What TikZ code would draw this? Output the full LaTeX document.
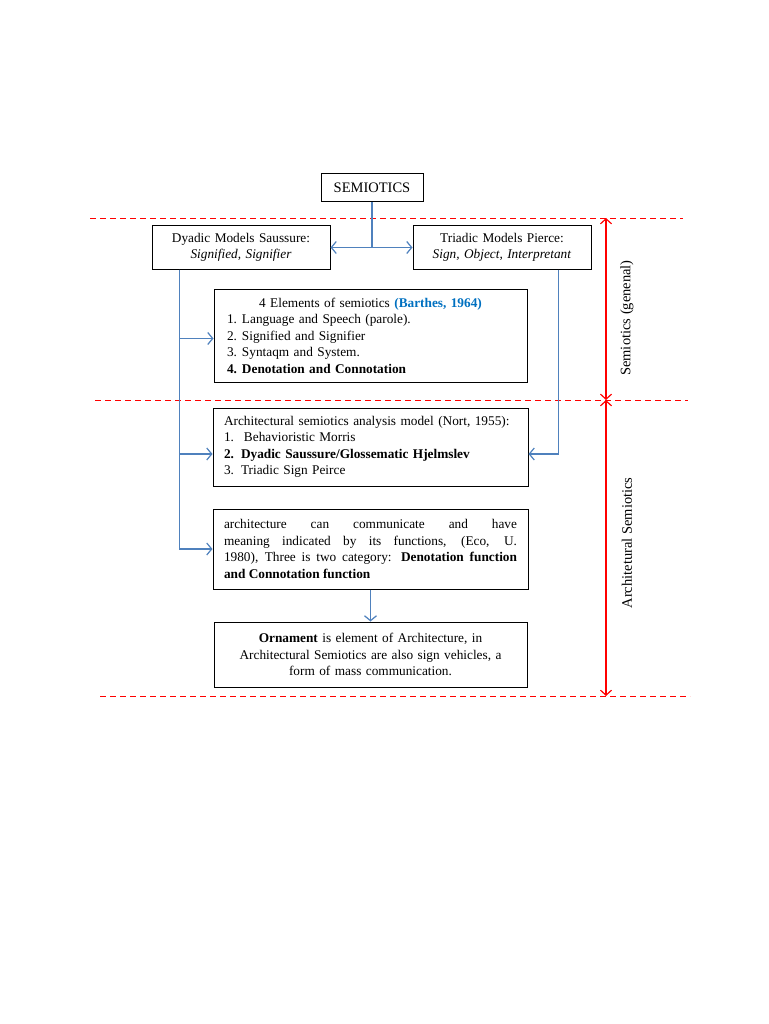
\documentclass[tikz,border=0pt]{standalone}
\usepackage{fontspec}
\setmainfont{Liberation Serif}
\usetikzlibrary{arrows.meta, positioning}
\definecolor{linkblue}{RGB}{79,129,189}
\definecolor{citeblue}{RGB}{0,112,192}
\tikzset{
link/.style={draw=linkblue, line width=1.2pt, -{Straight Barb[length=5pt,width=12pt]}}, % blue connectors
span/.style={draw=red, line width=1.2pt, {Straight Barb[length=5pt,width=11pt]}-{Straight Barb[length=5pt,width=11pt]}}, % red range arrows
sepline/.style={draw=red, line width=0.8pt, dash pattern=on 6pt off 4pt}, % section borders
}

\begin{document}
\begin{tikzpicture}[x=1pt, y=-1pt, box/.style = {draw, line width=1pt, inner ysep=0pt, font=\fontsize{13.3}{16.5}\selectfont}]
    % semiotics scheme with the general and the architectural part
    \useasboundingbox (0,0) rectangle (768,1024);

    \node[box, minimum width=102pt, minimum height=28pt, font=\fontsize{14.5}{16}\selectfont] (semiotics) at (372,188) {SEMIOTICS};
    \node[box, text width=160pt, inner xsep=9pt, minimum height=43pt, align=center] (dyadic) at (241,247.5) {Dyadic Models Saussure:\\\textit{Signified, Signifier}};
    \node[box, text width=160pt, inner xsep=9pt, minimum height=43pt, align=center] (triadic) [right=82pt of dyadic] {Triadic Models Pierce:\\\textit{Sign, Object, Interpretant}};
    \node[box, text width=287pt, inner xsep=13pt, minimum height=93pt, align=left] (elements) at (370.5,335.5) {\makebox[\linewidth]{4 Elements of semiotics \textcolor{citeblue}{\textbf{(Barthes, 1964)}}}\\
        \makebox[15pt][l]{1.}Language and Speech (parole).\\
        \makebox[15pt][l]{2.}Signified and Signifier\\
        \makebox[15pt][l]{3.}Syntaqm and System.\\
        \textbf{\makebox[15pt][l]{4.}Denotation and Connotation}};
    \node[box, text width=293pt, inner xsep=11pt, minimum height=78pt, align=left] (archmodel) [below=25pt of elements] {Architectural semiotics analysis model (Nort, 1955):\\
        \makebox[20pt][l]{1.}Behavioristic Morris\\
        \textbf{\makebox[17pt][l]{2.}Dyadic Saussure/Glossematic Hjelmslev}\\
        \makebox[17pt][l]{3.}Triadic Sign Peirce};
    \node[box, text width=293pt, inner xsep=11pt, minimum height=80pt, align=justify] (archfunc) [below=22pt of archmodel] {architecture can communicate and have\linebreak
        meaning indicated by its functions, (Eco, U.\linebreak
        1980), Three is two category: \textbf{Denotation function}\linebreak
        \textbf{and Connotation function}};
    \node[box, text width=289pt, inner xsep=12pt, minimum height=65pt, align=center] (ornament) [below=32pt of archfunc] {\textbf{Ornament} is element of Architecture, in\\
        Architectural Semiotics are also sign vehicles, a\\
        form of mass communication.};

    \node[rotate=90, font=\fontsize{14.5}{16}\selectfont] (general) at (627,318) {Semiotics (genenal)};
    \node[rotate=90, font=\fontsize{14.5}{16}\selectfont] (architectural) at (627,543) {Architetural Semiotics};

    \draw[sepline] (90,218) -- (683,218);
    \draw[sepline] (95,400) -- (688,400);
    \draw[sepline] (100,696) -- (690,696);
    \coordinate (top) at (606,218);
    \coordinate (mid) at (606,400);
    \coordinate (bottom) at (606,696);
    \draw[span] (top) -- (mid);
    \draw[span] (mid) -- (bottom);

    \draw[link, -] (semiotics.south) -- (semiotics.south |- dyadic.east);
    \draw[link, {Straight Barb[length=5pt,width=12pt]}-{Straight Barb[length=5pt,width=12pt]}] (dyadic.east) -- (triadic.west);
    \draw[link] ([xshift=28pt]dyadic.south west) |- ([yshift=-3pt]elements.west);
    \draw[link] ([xshift=28pt]dyadic.south west) |- ([yshift=-7pt]archmodel.west);
    \draw[link] ([xshift=28pt]dyadic.south west) |- (archfunc.west);
    \draw[link] ([xshift=-33pt]triadic.south east) |- ([yshift=-7pt]archmodel.east);
    \draw[link] (archfunc.south) -- (ornament.north);
\end{tikzpicture}
\end{document}
